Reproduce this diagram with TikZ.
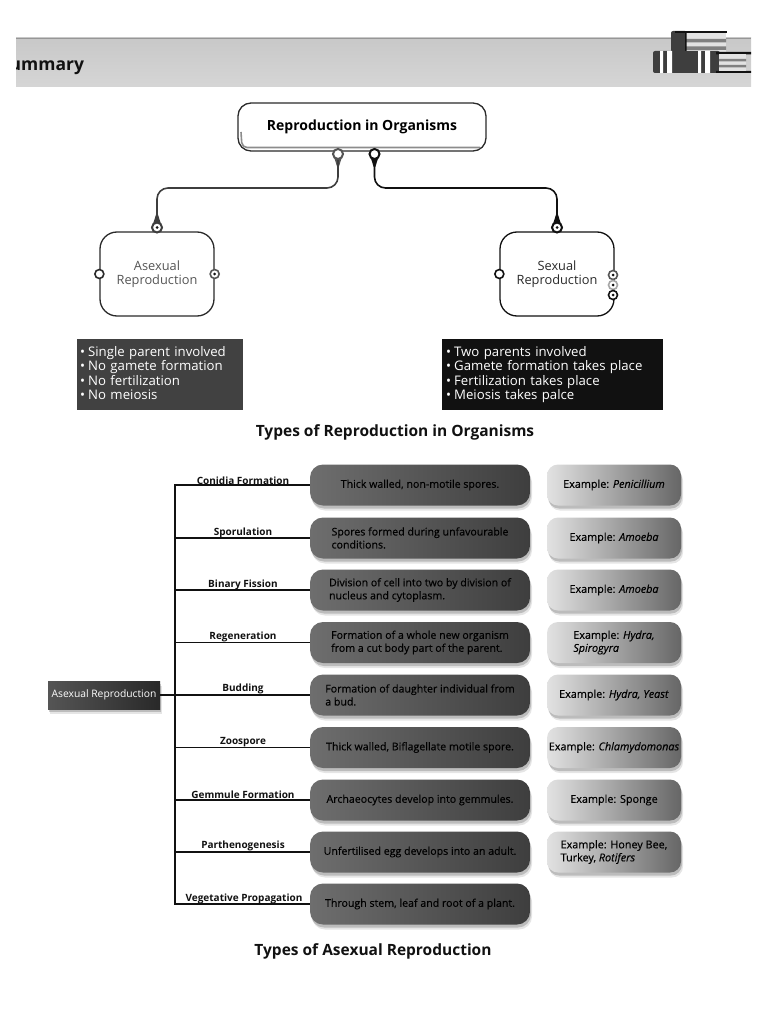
\documentclass[tikz,border=0pt]{standalone}
\usepackage{fontspec}
\setmainfont{Open Sans}
\usepackage{xcolor}
\usetikzlibrary{positioning, shadows, calc}
\definecolor{sumink}{HTML}{111111}
\definecolor{sumline}{HTML}{2A2A2A}
\definecolor{sumgrey}{HTML}{555555}
\definecolor{sumband}{HTML}{C8C8C8}
\definecolor{sumdark}{HTML}{3E3E3E}
\definecolor{summid}{HTML}{808080}
\definecolor{sumleft}{HTML}{6E6E6E}
\definecolor{sumpage}{HTML}{E2E2E2}
\definecolor{sumfade}{HTML}{666666}
\newcommand{\sumbullet}{•\hspace{3.2pt}}
\newfontfamily\sumheavy[FakeBold=0.4]{Open Sans}
\begin{document}
\begin{tikzpicture}[x=1pt, y=-1pt,
    softshadow/.style={general shadow={fill=black, opacity=.10, shadow xshift=2pt, shadow yshift=-5pt},
                       general shadow={fill=black, opacity=.18, shadow xshift=1pt, shadow yshift=-3pt}},
    rootbox/.style={draw=sumline, line width=1.3pt, rounded corners=13pt, fill=white,
                    minimum width=248pt, minimum height=48pt, font=\fontsize{14}{16}\selectfont\bfseries},
    kindbox/.style={draw=sumink, line width=1.3pt, rounded corners=17pt, fill=white, align=center,
                    minimum width=114pt, minimum height=84pt, font=\fontsize{12.8}{14}\selectfont},
    infobox/.style={text=white, align=left, inner sep=0pt, minimum height=71pt,
                    font=\fontsize{13.2}{14.5}\selectfont},
    port/.style={circle, draw=sumink, line width=1.6pt, fill=white, inner sep=0pt, minimum size=9pt},
    dotport/.style={port, path picture={\fill[sumink] (path picture bounding box.center) circle (1.5pt);}},
    caption/.style={font=\fontsize{15.5}{17}\selectfont\bfseries, text=sumink},
    branchlabel/.style={font=\fontsize{10}{11}\selectfont\bfseries, text=sumink, inner sep=0pt},
    mainbox/.style={rounded corners=13pt, left color=sumleft, middle color=summid, right color=sumdark,
                    minimum width=220pt, minimum height=41pt, inner xsep=0pt, align=left, text=black,
                    font=\sumheavy\fontsize{10.6}{13}\selectfont, softshadow},
    examplebox/.style={rounded corners=11pt, left color=sumpage, middle color=sumband, right color=sumfade,
                    minimum width=134pt, minimum height=41pt, inner xsep=0pt, align=left, text=black,
                    font=\sumheavy\fontsize{10.8}{13}\selectfont, softshadow},
    link/.style={draw=sumink, line width=1.3pt}]
  \useasboundingbox (0,0) rectangle (768,1024);

  % banner
  \shade[top color=sumband, bottom color=sumband!75!white] (16,38) rectangle (751,87);
  \fill[sumband!75!black] (16,38) rectangle (751,39.5);
  \begin{scope}
    \clip (16,30) rectangle (751,95);
    \node[anchor=base west, inner sep=0pt, text=sumink, font=\fontsize{17.5}{21}\selectfont\bfseries] (bannertitle) at (9.5,71) {ummary};
  \end{scope}

  % books
  \fill[sumdark, rounded corners=2pt] (671,31) rectangle (687,54);
  \fill[sumink] (675,31) rectangle (727,33.5);
  \fill[sumpage] (685,33.5) rectangle (726,53);
  \fill[summid] (685,39) rectangle (726,42.5) (685,46.5) rectangle (726,50);
  \fill[sumink] (683,53) rectangle (730,55) (685,33) rectangle (686.5,53);
  \fill[sumdark, rounded corners=2pt] (653,51) rectangle (720,73);
  \fill[white] (660,51) rectangle (663,73) (667,51) rectangle (672,73)
               (698,51) rectangle (701,73) (705,51) rectangle (710,73);
  \fill[sumink] (716,52) rectangle (751,54.5) (716,71) rectangle (751,73);
  \fill[sumpage] (719,54.5) rectangle (746,71);
  \fill[summid] (719,59) rectangle (746,61.5) (719,65) rectangle (746,67.5);

  % top chart
  \node[rootbox] (root) at (362,127) {Reproduction in Organisms};
  \draw[sumband!70!black, line width=1.6pt, rounded corners=5pt] (241,132) -- (242,147.5) -- (480,147.5);
  \node[kindbox, draw=sumline, text=sumgrey] (asexual) at (157,274) {Asexual\\Reproduction};
  \node[kindbox, text=sumline] (sexual) at (557,274) {Sexual\\Reproduction};

  % tapers under the ports
  \fill[sumgrey] (334,157) -- (342,157) -- (338.8,167) -- (337.2,167) -- cycle;
  \fill[sumink] (370.5,157) -- (378.5,157) -- (375.3,167) -- (373.7,167) -- cycle;
  \fill[sumdark] (153,224) -- (161,224) -- (157.8,214) -- (156.2,214) -- cycle;
  \fill[sumink] (553,224) -- (561,224) -- (557.8,214) -- (556.2,214) -- cycle;

  \node[port, draw=sumgrey, line width=2pt, minimum size=10pt] (rootl) at (338,154) {};
  \node[port, line width=2pt, minimum size=10pt] (rootr) at (374.5,154) {};
  \node[dotport, draw=sumdark, line width=2pt, minimum size=10pt] (asextop) at (157,227.5) {};
  \node[dotport, line width=2pt, minimum size=10pt] (sextop) at (557,227.5) {};
  \node[port, draw=sumline] (asexleft) at (asexual.west) {};
  \node[dotport, draw=sumgrey] (asexright) at (asexual.east) {};
  \node[port] (sexleft) at (sexual.west) {};
  \node[dotport, draw=sumgrey] (sexa) at (613,275) {};
  \node[dotport, draw=summid!70] (sexb) at (613,285) {};
  \node[dotport] (sexc) at (613,295) {};

  \coordinate (bendl) at (157,188);
  \coordinate (bendr) at (557,188);
  \draw[draw=sumdark, line width=1.6pt, rounded corners=11pt] (rootl) |- (bendl) -- (asextop);
  \draw[draw=sumink, line width=1.6pt, rounded corners=11pt] (rootr) |- (bendr) -- (sextop);

  \node[infobox, minimum width=166pt, text width=160pt, fill=sumdark!85!sumgrey] (asexinfo) at (160,374.5)
    {\sumbullet Single parent involved\\ \sumbullet No gamete formation\\ \sumbullet No fertilization\\ \sumbullet No meiosis\vphantom{p}};
  \node[infobox, minimum width=221pt, text width=213pt, fill=sumink] (sexinfo) at (552.5,374.5)
    {\sumbullet Two parents involved\\ \sumbullet Gamete formation takes place\\ \sumbullet Fertilization takes place\\ \sumbullet Meiosis takes palce};
  \node[caption] (topcaption) at (395,432) {Types of Reproduction in Organisms};

  % asexual chart
  \node[left color=sumgrey, right color=sumink!90, text=white, minimum width=112pt, minimum height=28pt,
        inner sep=0pt, font=\fontsize{10.3}{12}\selectfont, softshadow] (asexroot) at (104,695) {Asexual Reproduction};
  \coordinate (trunk) at (175,695);

  \node[mainbox] (main1) at (420,485) {Thick walled, non-motile spores.};
  \node[mainbox] (main2) at (420,538) {Spores formed during unfavourable\\conditions.};
  \node[mainbox] (main3) at (420,590) {Division of cell into two by division of\\nucleus and cytoplasm.};
  \node[mainbox] (main4) at (420,642.5) {Formation of a whole new organism\\from a cut body part of the parent.};
  \node[mainbox] (main5) at (420,695) {Formation of daughter individual from\\a bud.};
  \node[mainbox] (main6) at (420,747.5) {Thick walled, Biflagellate motile spore.};
  \node[mainbox] (main7) at (420,800) {Archaeocytes develop into gemmules.};
  \node[mainbox] (main8) at (420,852) {Unfertilised egg develops into an adult.};
  \node[mainbox] (main9) at (420,904) {Through stem, leaf and root of a plant.};

  \node[examplebox] (exa1) at (614,485) {Example: \textit{Penicillium}};
  \node[examplebox] (exa2) at (614,538) {Example: \textit{Amoeba}};
  \node[examplebox] (exa3) at (614,590) {Example: \textit{Amoeba}};
  \node[examplebox] (exa4) at (614,642.5) {Example: \textit{Hydra,}\\\textit{Spirogyra}};
  \node[examplebox] (exa5) at (614,695) {Example: \textit{Hydra, Yeast}};
  \node[examplebox] (exa6) at (614,747.5) {Example: \textit{Chlamydomonas}};
  \node[examplebox] (exa7) at (614,800) {Example: Sponge};
  \node[examplebox] (exa8) at (614,852) {Example: Honey Bee,\\Turkey, \textit{Rotifers}};

  \node[branchlabel] (lab1) at (243,481) {Conidia Formation};
  \node[branchlabel] (lab2) at (243,533) {Sporulation};
  \node[branchlabel] (lab3) at (243,585) {Binary Fission};
  \node[branchlabel] (lab4) at (243,637) {Regeneration};
  \node[branchlabel] (lab5) at (243,689) {Budding};
  \node[branchlabel] (lab6) at (243,742) {Zoospore};
  \node[branchlabel] (lab7) at (243,795) {Gemmule Formation};
  \node[branchlabel] (lab8) at (243,846) {Parthenogenesis};
  \node[branchlabel] (lab9) at (244,899) {Vegetative Propagation};

  \draw[link] (asexroot) -- (trunk);
  \foreach \row in {1,...,9}
    \draw[link] (trunk) |- (main\row);

  \node[caption] (bottomcaption) at (373,951) {Types of Asexual Reproduction};
\end{tikzpicture}
\end{document}
